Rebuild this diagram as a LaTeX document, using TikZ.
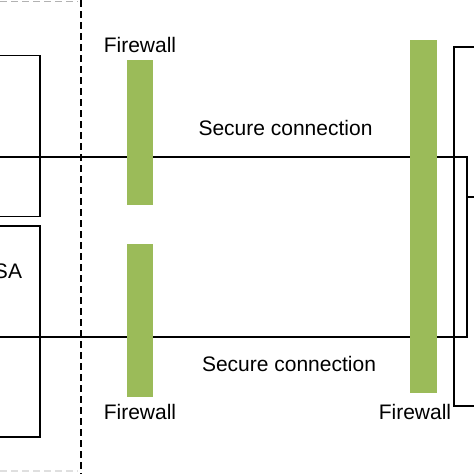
\documentclass[tikz,border=0pt]{standalone}
\usepackage{fontspec}
\setmainfont{Liberation Sans}
\begin{document}
\begin{tikzpicture}[x=1pt,y=-1pt,
  wire/.style={draw=black,line width=1.3pt},
  fw/.style={fill=fwgreen,draw=none,inner sep=0pt,minimum width=26pt},
  lbl/.style={font=\fontsize{21}{25}\selectfont,inner sep=0pt},
  zone/.style={draw=black,line width=1.3pt,dash pattern=on 7pt off 4pt},
  faint/.style={draw=gray!60,line width=1.3pt,dash pattern=on 7pt off 4pt}]
\definecolor{fwgreen}{RGB}{155,187,89}
\useasboundingbox (0,0) rectangle (474,474);
% zone boundaries
\draw[faint] (0,1.5) -- (78,1.5);
\draw[faint,draw=gray!25] (0,471) -- (78,471);
\draw[zone] (81,0) -- (81,474);
% left boxes
\node[draw,line width=1.3pt,minimum width=80pt,minimum height=161pt,inner sep=0pt] (boxA) at (0,136) {};
\node[draw,line width=1.3pt,minimum width=80pt,minimum height=211pt,inner sep=0pt] (boxB) at (0,331.5) {};
\node[lbl] (sa) at (8,271) {SA};
% right box
\coordinate (rbTop) at (474,47);
\coordinate (rbCorner) at (454,47);
\coordinate (rbBot) at (454,406);
\coordinate (rbEnd) at (474,406);
\draw[wire] (rbTop) -- (rbCorner) -- (rbBot) -- (rbEnd);
% connections
\coordinate (c1s) at (-10,157);
\coordinate (c2s) at (-10,337);
\coordinate (j1) at (467,157);
\coordinate (j2) at (467,337);
\coordinate (stub) at (474,197);
\draw[wire] (c1s) -- (j1) -- (j2) -- (c2s);
\draw[wire] (467,197) -- (stub);
% firewalls
\node[fw,minimum height=145pt] (fw1) at (140,132.5) {};
\node[fw,minimum height=153pt] (fw2) at (140,320.5) {};
\node[fw,minimum width=27pt,minimum height=353pt] (fw3) at (423.5,216.5) {};
\node[lbl] (fl1) at (140,45) {Firewall};
\node[lbl] (fl2) at (140,412) {Firewall};
\node[lbl] (fl3) at (415,412) {Firewall};
\node[lbl] (sc1) at (285.5,128) {Secure connection};
\node[lbl] (sc2) at (289,364) {Secure connection};
\end{tikzpicture}
\end{document}
